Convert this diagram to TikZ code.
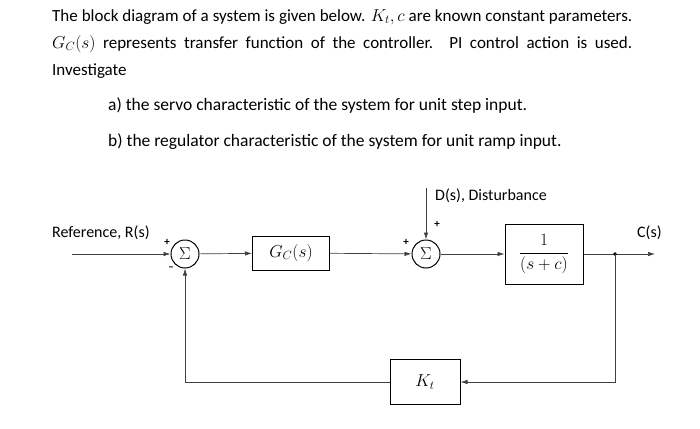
\documentclass[tikz,border=0pt]{standalone}
\usepackage{fontspec}
\setmainfont{Carlito}
\usepackage{amsmath}
\usetikzlibrary{arrows.meta}
\begin{document}
\begin{tikzpicture}[x=1pt,y=-1pt,
  blk/.style={draw,line width=1pt,inner sep=0pt,anchor=center,font=\fontsize{17}{18}\selectfont},
  sum/.style={draw,circle,line width=1pt,minimum size=28pt,inner sep=0pt,font=\fontsize{16}{16}\selectfont},
  ln/.style={line width=0.7pt,draw=black!75},
  ar/.style={ln,-{Latex[length=7pt,width=4.5pt]}},
  sg/.style={font=\fontsize{11}{11}\selectfont\bfseries,inner sep=0pt},
  lab/.style={font=\fontsize{16}{17}\selectfont,inner sep=0pt}]
\useasboundingbox (0,0) rectangle (700,428);
\node[anchor=north west,inner sep=0pt,font=\fontsize{17}{27}\selectfont] (txt) at (52,9)
 {\parbox{580pt}{The block diagram of a system is given below. $K_t,c$ are known constant parameters.\linebreak
 $G_C(s)$ represents transfer function of the controller. PI control action is used.\linebreak
 Investigate}};
\node[anchor=west,inner sep=0pt,font=\fontsize{17.5}{18}\selectfont] (qa) at (108,106) {a) the servo characteristic of the system for unit step input.};
\node[anchor=west,inner sep=0pt,font=\fontsize{17.5}{18}\selectfont] (qb) at (108,142) {b) the regulator characteristic of the system for unit ramp input.};
\node[sum] (s1) at (185,254) {$\Sigma$};
\node[blk,minimum width=77pt,minimum height=34pt] (gc) at (291,253) {$G_C(s)$};
\node[sum] (s2) at (426,254) {$\Sigma$};
\node[blk,minimum width=78pt,minimum height=60pt] (pl) at (544,254) {$\dfrac{1}{(s+c)}$};
\node[blk,minimum width=70pt,minimum height=45pt] (kt) at (425,382) {$K_t$};
\coordinate (in) at (72,254);
\coordinate (br) at (615,254);
\coordinate (out) at (655,254);
\coordinate (dtop) at (426,188);
\draw[ar] (in) -- (s1);
\draw[ar] (s1) -- (gc);
\draw[ar] (gc) -- (s2);
\draw[ar] (s2) -- (pl);
\draw[ar] (pl.east |- br) -- (out);
\fill (br) circle (1.8pt);
\draw[ar] (br) |- (kt.east |- 0,382);
\draw[ar] (kt.west |- 0,382) -| (s1.south);
\draw[ar] (dtop) -- (s2.north);
\node[lab,anchor=west] (rl) at (52,233) {Reference, R(s)};
\node[lab,anchor=west] (dl) at (435,196) {D(s), Disturbance};
\node[lab,anchor=west] (cl) at (637,233) {C(s)};
\node[sg] at (167,242) {+};
\node[sg] at (171,269) {--};
\node[sg] at (406,242) {+};
\node[sg] at (437,224) {+};
\end{tikzpicture}
\end{document}
